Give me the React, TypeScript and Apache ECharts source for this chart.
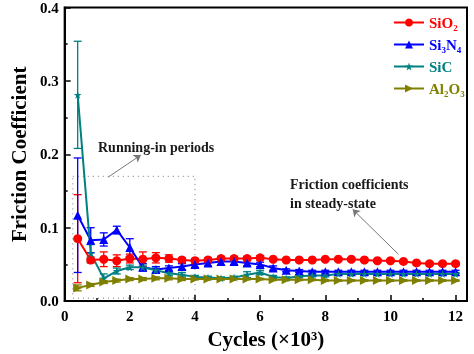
import React, { useEffect, useRef } from "react";
import * as echarts from "echarts";

const cycles = [0.4, 0.8, 1.2, 1.6, 2.0, 2.4, 2.8, 3.2, 3.6, 4.0, 4.4, 4.8, 5.2, 5.6, 6.0, 6.4, 6.8, 7.2, 7.6, 8.0, 8.4, 8.8, 9.2, 9.6, 10.0, 10.4, 10.8, 11.2, 11.6, 12.0];

const sio2 = [0.085, 0.056, 0.057, 0.055, 0.058, 0.057, 0.059, 0.058, 0.056, 0.055, 0.056, 0.058, 0.058, 0.058, 0.059, 0.057, 0.056, 0.056, 0.056, 0.057, 0.057, 0.057, 0.056, 0.055, 0.055, 0.054, 0.052, 0.051, 0.051, 0.051];
const sio2Err = [0.06, 0.004, 0.01, 0.008, 0.006, 0.01, 0.007, 0.005, 0.003, 0.003, 0.003, 0.003, 0.003, 0.003, 0.003, 0.002, 0.002, 0.002, 0.002, 0.002, 0.002, 0.002, 0.002, 0.002, 0.002, 0.002, 0.002, 0.002, 0.002, 0.002];

const si3n4 = [0.117, 0.083, 0.084, 0.097, 0.073, 0.046, 0.043, 0.045, 0.047, 0.050, 0.052, 0.054, 0.054, 0.052, 0.050, 0.045, 0.042, 0.041, 0.040, 0.040, 0.040, 0.040, 0.040, 0.040, 0.040, 0.040, 0.040, 0.040, 0.040, 0.040];
const si3n4Err = [0.078, 0.017, 0.009, 0.005, 0.012, 0.005, 0.004, 0.003, 0.004, 0.004, 0.004, 0.005, 0.004, 0.004, 0.003, 0.003, 0.002, 0.002, 0.002, 0.002, 0.002, 0.002, 0.002, 0.002, 0.002, 0.002, 0.002, 0.002, 0.002, 0.002];

const sic = [0.281, 0.065, 0.031, 0.041, 0.046, 0.046, 0.042, 0.038, 0.036, 0.033, 0.032, 0.031, 0.032, 0.036, 0.039, 0.033, 0.031, 0.034, 0.035, 0.035, 0.037, 0.037, 0.037, 0.037, 0.037, 0.037, 0.037, 0.037, 0.037, 0.037];
const sicErr = [0.073, 0.012, 0.006, 0.004, 0.003, 0.003, 0.003, 0.003, 0.003, 0.002, 0.002, 0.002, 0.002, 0.004, 0.003, 0.002, 0.002, 0.002, 0.002, 0.002, 0.002, 0.002, 0.002, 0.002, 0.002, 0.002, 0.002, 0.002, 0.002, 0.002];

const al2o3 = [0.018, 0.022, 0.026, 0.028, 0.030, 0.030, 0.031, 0.031, 0.030, 0.030, 0.030, 0.030, 0.030, 0.030, 0.030, 0.029, 0.029, 0.029, 0.029, 0.028, 0.028, 0.028, 0.028, 0.028, 0.028, 0.028, 0.028, 0.028, 0.028, 0.028];
const al2o3Err = [0.004, 0.002, 0.002, 0.002, 0.002, 0.002, 0.002, 0.002, 0.002, 0.001, 0.001, 0.001, 0.001, 0.001, 0.001, 0.001, 0.001, 0.001, 0.001, 0.001, 0.001, 0.001, 0.001, 0.001, 0.001, 0.001, 0.001, 0.001, 0.001, 0.001];

const seriesNames = ["SiO₂", "Si₃N₄", "SiC", "Al₂O₃"];
const seriesColors = ["#ff0000", "#0000ff", "#008080", "#808000"];

// annotation geometry in data coordinates
const runInBox = [[0.25, 0.17], [4.0, 0.004]];
const arrowRunIn = [[1.34, 0.169], [2.34, 0.199]];
const arrowSteady = [[10.24, 0.064], [8.84, 0.125]];
const xTickLabels = ["0", "2", "4", "6", "8", "10", "12"];

const FONT = '"Liberation Serif", "Times New Roman", "DejaVu Serif", serif';

function errRender(color: string) {
  return (params: any, api: any) => {
    const x = api.value(0);
    const lo = api.value(1);
    const hi = api.value(2);
    const top = api.coord([x, hi]);
    const bot = api.coord([x, lo]);
    const w = 4;
    const style = { stroke: color, lineWidth: 1.3 };
    return {
      type: "group",
      children: [
        { type: "line", shape: { x1: top[0], y1: top[1], x2: bot[0], y2: bot[1] }, style },
        { type: "line", shape: { x1: top[0] - w, y1: top[1], x2: top[0] + w, y2: top[1] }, style },
        { type: "line", shape: { x1: bot[0] - w, y1: bot[1], x2: bot[0] + w, y2: bot[1] }, style },
      ],
    };
  };
}

export default function App() {
  const ref = useRef<HTMLDivElement>(null);
  useEffect(() => {
    if (!ref.current) return;
    const chart = echarts.init(ref.current, undefined, { renderer: "svg" });
    const vals = [sio2, si3n4, sic, al2o3];
    const errs = [sio2Err, si3n4Err, sicErr, al2o3Err];
    const symbols = ["circle", "triangle", "path://M50,0 L61,35 L98,35 L68,57 L79,91 L50,70 L21,91 L32,57 L2,35 L39,35 Z", "triangle"];
    const symbolSizes = [9, 9, 8, 9];
    const symbolRotates = [0, 0, 0, -90];

    const errSeries = vals.map((v, k) => ({
      type: "custom",
      name: seriesNames[k] + " err",
      renderItem: errRender(seriesColors[k]),
      encode: { x: 0, y: [1, 2] },
      data: cycles.map((c, i) => [c, v[i] - errs[k][i], v[i] + errs[k][i]]),
      silent: true,
      z: 2,
    }));

    const lineSeries: any[] = vals.map((v, k) => ({
      type: "line",
      name: seriesNames[k],
      data: cycles.map((c, i) => [c, v[i]]),
      symbol: symbols[k],
      symbolSize: symbolSizes[k],
      symbolRotate: symbolRotates[k],
      showAllSymbol: true,
      color: seriesColors[k],
      lineStyle: { width: 2, color: seriesColors[k] },
      itemStyle: { color: seriesColors[k] },
      z: 3,
    }));

    lineSeries[0].markArea = {
      silent: true,
      itemStyle: { color: "transparent", borderColor: "#777", borderWidth: 1, borderType: [1, 4] },
      data: [[{ coord: runInBox[0] }, { coord: runInBox[1] }]],
    };
    lineSeries[0].markLine = {
      silent: true,
      symbol: ["none", "arrow"],
      symbolSize: 7,
      label: { show: false },
      lineStyle: { color: "#777", width: 1, type: "solid" },
      data: [
        [{ coord: arrowRunIn[0] }, { coord: arrowRunIn[1] }],
        [{ coord: arrowSteady[0] }, { coord: arrowSteady[1] }],
      ],
    };

    chart.setOption({
      animation: false,
      grid: { left: 61, right: 7, top: 7, bottom: 47, show: true, borderColor: "#000", borderWidth: 2, backgroundColor: "transparent" },
      legend: {
        orient: "vertical",
        left: 388,
        top: 10,
        itemGap: 7,
        itemWidth: 30,
        itemHeight: 10,
        data: seriesNames.map((n, k) => ({ name: n, textStyle: { color: seriesColors[k] } })),
        textStyle: { fontFamily: FONT, fontWeight: "bold", fontSize: 15 },
      },
      xAxis: {
        type: "value",
        min: 0,
        max: 12.35,
        interval: 2,
        name: "Cycles (×10³)",
        nameLocation: "middle",
        nameGap: 26,
        nameTextStyle: { fontFamily: FONT, fontWeight: "bold", fontSize: 21, color: "#000" },
        axisLine: { lineStyle: { color: "#000", width: 2 } },
        axisTick: { inside: true, length: 6, lineStyle: { color: "#000", width: 1.5 } },
        minorTick: { show: true, splitNumber: 2, length: 3, lineStyle: { color: "#000", width: 1.5 } },
        splitLine: { show: false },
        axisLabel: {
          fontFamily: FONT, fontWeight: "bold", fontSize: 15, color: "#000", margin: 7,
          formatter: (v: number) => (xTickLabels.includes(String(v)) ? String(v) : ""),
        },
      },
      yAxis: {
        type: "value",
        min: 0,
        max: 0.4,
        interval: 0.1,
        name: "Friction Coefficient",
        nameLocation: "middle",
        nameGap: 35,
        nameTextStyle: { fontFamily: FONT, fontWeight: "bold", fontSize: 21, color: "#000" },
        axisLine: { lineStyle: { color: "#000", width: 2 } },
        axisTick: { inside: true, length: 6, lineStyle: { color: "#000", width: 1.5 } },
        minorTick: { show: true, splitNumber: 2, length: 3, lineStyle: { color: "#000", width: 1.5 } },
        splitLine: { show: false },
        axisLabel: {
          fontFamily: FONT, fontWeight: "bold", fontSize: 15, color: "#000", margin: 6,
          formatter: (v: number) => v.toFixed(1),
        },
      },
      graphic: [
        {
          type: "text",
          left: 98,
          top: 140,
          style: { text: "Running-in periods", font: `bold 14px ${FONT}`, fill: "#1a1a1a" },
        },
        {
          type: "text",
          left: 290,
          top: 175,
          style: { text: "Friction coefficients\nin steady-state", font: `bold 14px ${FONT}`, fill: "#1a1a1a", lineHeight: 19 },
        },
      ],
      series: [...errSeries, ...lineSeries],
    });
    return () => chart.dispose();
  }, []);
  return <div ref={ref} style={{ position: "fixed", left: 0, top: 0, width: 474, height: 354 }} />;
}
